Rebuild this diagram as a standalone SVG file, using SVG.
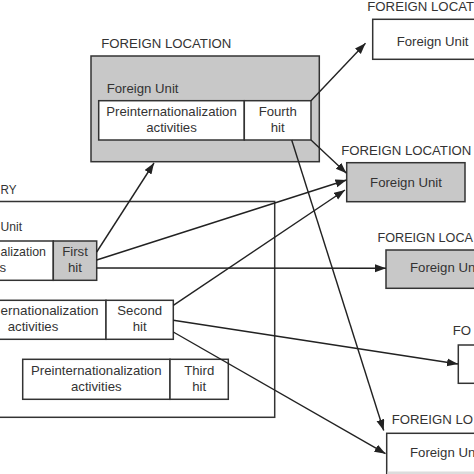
<svg xmlns="http://www.w3.org/2000/svg" width="474" height="474" viewBox="0 0 474 474">
<style>
text{font-family:"Liberation Sans",Arial,sans-serif;font-size:13.2px;fill:#333}
.c{text-anchor:middle}
.e{text-anchor:end}
.box{stroke:#333;stroke-width:1.5}
.w{fill:#fff}
.g{fill:#c8c8c8}
.ln{stroke:#222;stroke-width:1.4;fill:none;marker-end:url(#ah)}
</style>
<defs>
<marker id="ah" markerUnits="userSpaceOnUse" markerWidth="12" markerHeight="9" refX="11" refY="4" orient="auto">
<path d="M0,0 L11,4 L0,8 z" fill="#222"/>
</marker>
</defs>
<rect width="474" height="474" fill="#fff"/>

<g id="home-country">
<rect class="box" x="-20" y="201.5" width="294.7" height="215.8" fill="none"/>
<text x="0.5" y="193.5" textLength="16" lengthAdjust="spacingAndGlyphs">RY</text>
<text x="0.5" y="231" textLength="21.5" lengthAdjust="spacingAndGlyphs">Unit</text>
</g>

<g id="row-first">
<rect class="box w" x="-92" y="241" width="145.3" height="39.3"/>
<rect class="box g" x="53.3" y="241" width="43.4" height="39.3"/>
<text x="0.5" y="256" textLength="45.5" lengthAdjust="spacingAndGlyphs">alization</text>
<text class="e" x="6" y="271.7">s</text>
<text class="c" x="75" y="256">First</text>
<text class="c" x="75" y="271.7">hit</text>
</g>

<g id="row-second">
<rect class="box w" x="-40" y="300.3" width="146" height="39"/>
<rect class="box w" x="106" y="300.3" width="67.3" height="39"/>
<text x="0.5" y="315.3" textLength="98" lengthAdjust="spacingAndGlyphs">ernationalization</text>
<text class="c" x="33" y="331">activities</text>
<text class="c" x="139.7" y="315.3">Second</text>
<text class="c" x="139.7" y="331">hit</text>
</g>

<g id="row-third">
<rect class="box w" x="22.7" y="359.3" width="147.3" height="40"/>
<rect class="box w" x="170" y="359.3" width="58.3" height="40"/>
<text class="c" x="96.3" y="375.3">Preinternationalization</text>
<text class="c" x="96.3" y="391">activities</text>
<text class="c" x="199.2" y="375.3">Third</text>
<text class="c" x="199.2" y="391">hit</text>
</g>

<g id="foreign-location-main">
<text x="101.2" y="48.3">FOREIGN LOCATION</text>
<rect class="box g" x="91" y="56" width="228.3" height="105.7"/>
<text x="106.7" y="93.3">Foreign Unit</text>
<rect class="box w" x="98.7" y="100.7" width="145.6" height="39.3"/>
<rect class="box w" x="244.3" y="100.7" width="66.7" height="39.3"/>
<text class="c" x="171.5" y="116">Preinternationalization</text>
<text class="c" x="171.5" y="131.7">activities</text>
<text class="c" x="277.7" y="116">Fourth</text>
<text class="c" x="277.7" y="131.7">hit</text>
</g>

<g id="foreign-1">
<text x="367.3" y="10.5">FOREIGN LOCAT</text>
<rect class="box w" x="372.7" y="19.3" width="130" height="40"/>
<text x="396.7" y="46">Foreign Unit</text>
</g>

<g id="foreign-2">
<text x="341.2" y="155">FOREIGN LOCATION</text>
<rect class="box g" x="346.7" y="162.7" width="118.3" height="39"/>
<text class="c" x="406" y="186.7">Foreign Unit</text>
</g>

<g id="foreign-3">
<text x="377.5" y="241.7" textLength="95.5" lengthAdjust="spacingAndGlyphs">FOREIGN LOCA</text>
<rect class="box g" x="386" y="250" width="130" height="38.3"/>
<text x="410" y="271.7">Foreign Un</text>
</g>

<g id="foreign-4">
<text x="452.7" y="335">FO</text>
<rect class="box w" x="458.3" y="345" width="130" height="38.3"/>
</g>

<g id="foreign-5">
<text x="391.7" y="424.3">FOREIGN LO</text>
<rect class="box w" x="386.7" y="433.3" width="130" height="60"/>
<rect x="387.5" y="471.5" width="100" height="5" fill="#dcdcdc"/>
<text x="410" y="457.3">Foreign Un</text>
</g>

<g id="connectors">
<line class="ln" x1="96.7" y1="252" x2="154" y2="163"/>
<line class="ln" x1="96.7" y1="260" x2="346.5" y2="180"/>
<line class="ln" x1="96.7" y1="268" x2="386" y2="268.3"/>
<line class="ln" x1="173.3" y1="305.3" x2="345" y2="190"/>
<line class="ln" x1="173.3" y1="320.3" x2="458" y2="364"/>
<line class="ln" x1="173.3" y1="332" x2="385.5" y2="453.7"/>
<line class="ln" x1="311" y1="100.7" x2="365.5" y2="43.3"/>
<line class="ln" x1="311" y1="140" x2="346.5" y2="173.3"/>
<line class="ln" x1="291.7" y1="140" x2="383.7" y2="430.5"/>
</g>
</svg>
